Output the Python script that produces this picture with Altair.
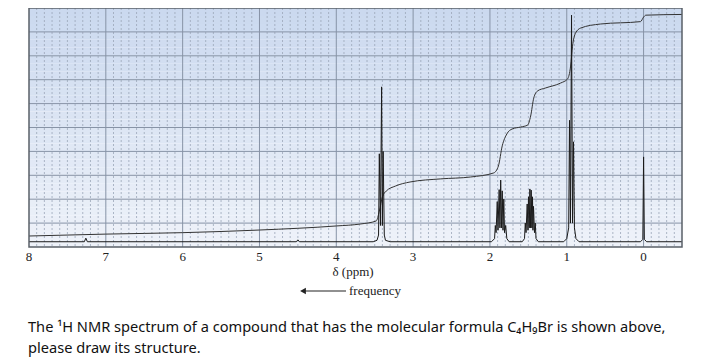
import altair as alt
import pandas as pd
import numpy as np

# ---- data ----
spec_ppm = [8.0, 7.28, 7.26, 7.24, 4.52, 4.50, 4.48,
            3.52, 3.47, 3.45, 3.44, 3.425, 3.41, 3.40, 3.39, 3.375, 3.36, 3.30,
            1.98, 1.94, 1.93, 1.92, 1.905, 1.895, 1.88, 1.87, 1.86, 1.85, 1.84, 1.83, 1.82, 1.81, 1.795, 1.78, 1.75,
            1.58, 1.55, 1.54, 1.53, 1.515, 1.505, 1.498, 1.488, 1.48, 1.471, 1.463, 1.454, 1.446, 1.44, 1.433, 1.42, 1.41, 1.40, 1.37,
            1.04, 1.0, 0.975, 0.964, 0.952, 0.938, 0.925, 0.912, 0.90, 0.88, 0.84,
            0.04, 0.01, 0.0, -0.01, -0.04, -0.5]
spec_int = [0.22, 0.22, 0.37, 0.22, 0.22, 0.30, 0.22,
            0.22, 0.28, 0.50, 3.9, 0.9, 6.7, 0.9, 4.0, 0.5, 0.28, 0.22,
            0.22, 0.35, 0.9, 0.6, 1.9, 0.7, 2.4, 0.8, 2.8, 0.8, 2.35, 0.7, 2.0, 0.6, 0.9, 0.35, 0.22,
            0.22, 0.35, 1.0, 0.6, 1.8, 0.7, 2.1, 0.8, 2.43, 0.8, 2.38, 0.8, 2.1, 0.7, 1.7, 0.6, 1.0, 0.35, 0.22,
            0.22, 0.35, 0.8, 5.3, 1.0, 9.7, 1.0, 4.4, 0.8, 0.35, 0.22,
            0.22, 0.32, 3.77, 0.32, 0.22, 0.22]

integ_ppm = [8.0, 7.0, 6.0, 5.0, 4.0, 3.69, 3.48, 3.44, 3.40, 3.35, 3.23, 3.04, 2.64, 2.25, 1.95,
             1.89, 1.84, 1.78, 1.71, 1.60, 1.51, 1.47, 1.43, 1.38, 1.28, 1.08, 0.99, 0.95, 0.925,
             0.886, 0.82, 0.56, 0.04, 0.0, -0.03, -0.5]
integ_val = [0.46, 0.54, 0.60, 0.71, 0.88, 0.96, 1.09, 1.5, 2.1, 2.34, 2.55, 2.72, 2.85, 2.93, 3.10,
             3.39, 4.23, 4.73, 4.94, 5.02, 5.10, 5.48, 6.23, 6.53, 6.65, 6.86, 7.03, 7.57, 8.4,
             8.95, 9.16, 9.33, 9.43, 9.62, 9.70, 9.73]

tick_labels = [8, 7, 6, 5, 4, 3, 2, 1, 0]
h_grid = [1, 2, 3, 4, 5, 6, 7, 8, 9]
axis_title = "δ (ppm)"
arrow_label = "frequency"
caption = ["The ¹H NMR spectrum of a compound that has the molecular formula C₄H₉Br is shown above,",
           "please draw its structure."]

W, H = 653, 239
X0, X1, Y0, Y1 = 8.0, -0.5, 0.0, 10.0
xs = alt.Scale(domain=[X0, X1], nice=False, zero=False)
ys = alt.Scale(domain=[Y0, Y1], nice=False, zero=False)


def px2x(px):
    return X0 + (X1 - X0) * px / W


def px2y(py):
    return Y1 - (Y1 - Y0) * py / H


def X(f):
    return alt.X(f, scale=xs, axis=None)


def Y(f):
    return alt.Y(f, scale=ys, axis=None)


minor = [round(float(v), 1) for v in np.arange(-0.4, 8.0, 0.1) if abs(v - round(v)) > 1e-6]

# background bands (top bluish -> bottom lighter)
nb = 30
top = np.array([0xcb, 0xd9, 0xef]); bot = np.array([0xee, 0xf2, 0xf9])
bands = []
for i in range(nb):
    c = top + (bot - top) * (i / (nb - 1))
    bands.append({"x0": X0, "x1": X1, "y0": 10 - 10 * i / nb, "y1": 10 - 10 * (i + 1) / nb,
                  "c": "#%02x%02x%02x" % tuple(int(round(v)) for v in c)})
bg = alt.Chart(pd.DataFrame(bands)).mark_rect().encode(
    x=X("x0:Q"), x2="x1:Q", y=Y("y0:Q"), y2="y1:Q", color=alt.Color("c:N", scale=None))

minor_rules = alt.Chart(pd.DataFrame({"p": minor})).mark_rule(
    color="#9aa6b8", strokeWidth=0.8, strokeDash=[2, 2]
).encode(x=X("p:Q"))

major_rules = alt.Chart(pd.DataFrame({"p": tick_labels[1:]})).mark_rule(
    color="#8793a6", strokeWidth=1
).encode(x=X("p:Q"))

h_rules = alt.Chart(pd.DataFrame({"v": h_grid})).mark_rule(
    color="#8793a6", strokeWidth=1
).encode(y=Y("v:Q"))

integ = alt.Chart(pd.DataFrame({"p": integ_ppm, "v": integ_val})).mark_line(
    color="#333333", strokeWidth=1, interpolate="monotone"
).encode(x=X("p:Q"), y=Y("v:Q"))

spec = alt.Chart(pd.DataFrame({"p": spec_ppm, "v": spec_int})).mark_line(
    color="#1a1a1a", strokeWidth=1
).encode(x=X("p:Q"), y=Y("v:Q"))

frame = alt.Chart(pd.DataFrame({"x0": [X0], "x1": [X1], "y0": [Y0], "y1": [Y1]})).mark_rect(
    fillOpacity=0, stroke="#5a6068", strokeWidth=1.5
).encode(x=X("x0:Q"), x2="x1:Q", y=Y("y0:Q"), y2="y1:Q")

ticks = alt.Chart(pd.DataFrame({"p": tick_labels, "y0": [px2y(249)] * len(tick_labels)})).mark_text(
    font="Liberation Serif", fontSize=13, color="#222", align="center", baseline="middle"
).encode(x=X("p:Q"), y=Y("y0:Q"), text=alt.Text("p:Q", format="d"))

arrow_line = alt.Chart(pd.DataFrame({"x0": [px2x(275)], "x1": [px2x(317)], "y0": [px2y(283)]})).mark_rule(
    color="#222", strokeWidth=1.2).encode(x=X("x0:Q"), x2="x1:Q", y=Y("y0:Q"))
arrow_head = alt.Chart(pd.DataFrame({"x0": [px2x(274)], "y0": [px2y(283)]})).mark_point(
    shape="triangle-left", filled=True, color="#222", size=45, opacity=1).encode(
    x=X("x0:Q"), y=Y("y0:Q"))

serif_txt = pd.DataFrame({
    "x0": [px2x(324), px2x(320)],
    "y0": [px2y(264), px2y(283)],
    "t": [axis_title, arrow_label],
})
title_t = alt.Chart(serif_txt.iloc[[0]]).mark_text(
    font="Liberation Serif", fontSize=13, color="#222", align="center", baseline="middle"
).encode(x=X("x0:Q"), y=Y("y0:Q"), text="t:N")
freq_t = alt.Chart(serif_txt.iloc[[1]]).mark_text(
    font="Liberation Serif", fontSize=13, color="#222", align="left", baseline="middle"
).encode(x=X("x0:Q"), y=Y("y0:Q"), text="t:N")

para_df = pd.DataFrame({"x0": [px2x(-1)] * 2, "y0": [px2y(320), px2y(341)], "t": caption})
para = alt.Chart(para_df).mark_text(
    font="Noto Sans", fontSize=14.6, color="#111", align="left", baseline="middle"
).encode(x=X("x0:Q"), y=Y("y0:Q"), text="t:N")

chart = alt.layer(bg, minor_rules, major_rules, h_rules, integ, spec, frame,
                  ticks, title_t, arrow_line, arrow_head, freq_t, para).properties(
    width=W, height=H,
    padding={"left": 21, "top": 0, "right": 10, "bottom": 110},
    autosize="none",
).configure_view(strokeWidth=0)

chart.save("out.html", embed_options={"renderer": "svg", "actions": False})
